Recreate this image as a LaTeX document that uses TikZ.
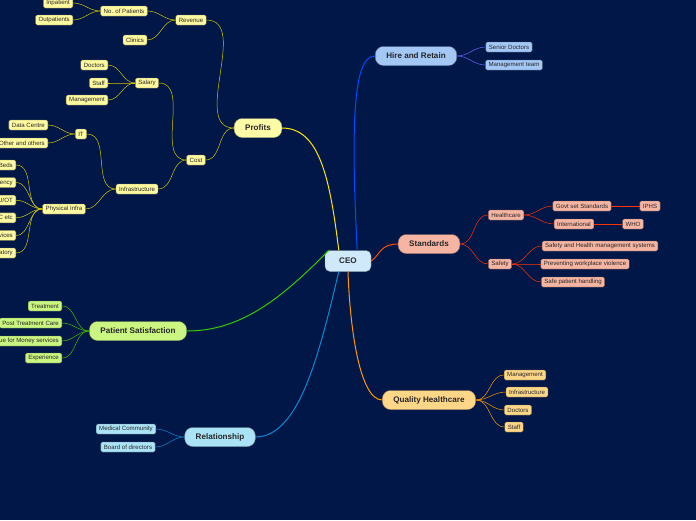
\documentclass[tikz,border=0pt]{standalone}
\usepackage{fontspec}
\setmainfont{Liberation Sans}
\begin{document}
\begin{tikzpicture}[x=1pt,y=-1pt,
 leaf/.style={draw=#1!50!black,fill=#1,rounded corners=1.5pt,font=\fontsize{6.1}{7}\selectfont,inner xsep=3pt,inner ysep=1.4pt,minimum height=10pt,text=black!85},
 main/.style={draw=#1!60!black,fill=#1,rounded corners=8pt,font=\fontsize{8.1}{9}\selectfont\bfseries,minimum height=19pt,inner xsep=11pt,text=black!85},
 sub/.style={draw=#1,line width=0.5pt},
 br/.style={draw=#1,line width=1pt}]
\definecolor{bg}{HTML}{011748}
\definecolor{cy}{HTML}{FFFCA8}\definecolor{cyl}{HTML}{FFF9A0}
\definecolor{cb}{HTML}{A3C8F6}\definecolor{cs}{HTML}{F6B5A2}
\definecolor{co}{HTML}{FDD688}\definecolor{cc}{HTML}{ABE3F6}
\definecolor{cg}{HTML}{C9F580}\definecolor{cceo}{HTML}{CFE9FB}
\fill[bg] (0,0) rectangle (696,520);
\clip (0,0) rectangle (696,520);
\useasboundingbox (0,0) rectangle (696,520);
% CEO
\node[main=cceo,minimum width=46pt,rounded corners=5pt,minimum height=21pt] (ceo) at (348,261) {CEO};
% main
\node[main=cb] (hire) at (416,56) {Hire and Retain};
\node[main=cs] (std) at (429,244) {Standards};
\node[main=co] (qh) at (429,400) {Quality Healthcare};
\node[main=cc] (rel) at (220,437) {Relationship};
\node[main=cg] (ps) at (138,331) {Patient Satisfaction};
\node[main=cy] (pro) at (258,128) {Profits};
\draw[br=yellow!90!orange] (ceo.north west)++(14,0) coordinate (c1) (c1) .. controls (330,180) and (320,128) .. (pro.east);
\draw[br=blue!70!cyan] (ceo.north east)++(-14,0) coordinate (c2) (c2) .. controls (350,110) and (355,56) .. (hire.west);
\draw[br=orange!60!red] (ceo.east) .. controls (380,255) and (380,244) .. (std.west);
\draw[br=orange!80!yellow] (ceo.south) .. controls (350,330) and (360,400) .. (qh.west);
\draw[br=cyan!70!blue] (ceo.south west)++(14,0) coordinate (c3) (c3) .. controls (320,350) and (300,437) .. (rel.east);
\draw[br=green!60!olive] (ceo.north west)++(4,0) coordinate (c4) (c4) .. controls (280,300) and (240,331) .. (ps.east);
% Hire
\node[leaf=cb] (sd) at (509,47) {Senior Doctors};
\node[leaf=cb] (mt) at (514,65) {Management team};
\foreach \n in {sd,mt}\draw[sub=blue!60] (hire.east) to[out=0,in=180] (\n.west);
% Standards
\node[leaf=cs] (hc) at (506,215) {Healthcare};
\node[leaf=cs] (gs) at (582,206) {Govt set Standards};
\node[leaf=cs] (ip) at (650,206) {IPHS};
\node[leaf=cs] (int) at (574,224) {International};
\node[leaf=cs] (who) at (633,224) {WHO};
\node[leaf=cs] (sf) at (500,264) {Safety};
\node[leaf=cs] (s1) at (600,246) {Safety and Health management systems};
\node[leaf=cs] (s2) at (585,264) {Preventing workplace violence};
\node[leaf=cs] (s3) at (573,282) {Safe patient handling};
\foreach \n in {hc,sf}\draw[sub=red!60!orange] (std.east) to[out=0,in=180] (\n.west);
\foreach \n in {gs,int}\draw[sub=red!60!orange] (hc.east) to[out=0,in=180] (\n.west);
\draw[sub=red!60!orange] (gs) -- (ip);
\draw[sub=red!60!orange] (int) -- (who);
\foreach \n in {s1,s2,s3}\draw[sub=red!60!orange] (sf.east) to[out=0,in=180] (\n.west);
% Quality
\node[leaf=co] (q1) at (525,375) {Management};
\node[leaf=co] (q2) at (527,392) {Infrastructure};
\node[leaf=co] (q3) at (518,410) {Doctors};
\node[leaf=co] (q4) at (514,427) {Staff};
\foreach \n in {q1,q2,q3,q4}\draw[sub=orange!80!yellow] (qh.east) to[out=0,in=180] (\n.west);
% Relationship
\node[leaf=cc] (r1) at (126,429) {Medical Community};
\node[leaf=cc] (r2) at (128,447) {Board of directors};
\foreach \n in {r1,r2}\draw[sub=cyan!70!blue] (rel.west) to[out=180,in=0] (\n.east);
% Patient Satisfaction
\node[leaf=cg,anchor=east] (p1) at (62,306) {Treatment};
\node[leaf=cg,anchor=east] (p2) at (62,323) {Post Treatment Care};
\node[leaf=cg,anchor=east] (p3) at (62,341) {Value for Money services};
\node[leaf=cg,anchor=east] (p4) at (62,358) {Experience};
\foreach \n in {p1,p2,p3,p4}\draw[sub=green!50!olive] (ps.west) to[out=180,in=0] (\n.east);
% Profits
\tikzset{ys/.style={sub=yellow!60!olive}}
\node[leaf=cyl] (rev) at (191,20) {Revenue};
\node[leaf=cyl] (nop) at (124,11) {No. of Patients};
\node[leaf=cyl,anchor=east] (inp) at (73,3) {Inpatient};
\node[leaf=cyl,anchor=east] (outp) at (73,20) {Outpatients};
\node[leaf=cyl] (cli) at (135,40) {Clinics};
\node[leaf=cyl] (cost) at (196,160) {Cost};
\node[leaf=cyl] (sal) at (147,83) {Salary};
\node[leaf=cyl,anchor=east] (sd1) at (108,65) {Doctors};
\node[leaf=cyl,anchor=east] (sd2) at (108,83) {Staff};
\node[leaf=cyl,anchor=east] (sd3) at (108,100) {Management};
\node[leaf=cyl] (inf) at (137,189) {Infrastructure};
\node[leaf=cyl] (it) at (81,134) {IT};
\node[leaf=cyl,anchor=east] (dc) at (48,125) {Data Centre};
\node[leaf=cyl,anchor=east] (oth) at (48,143) {Other and others};
\node[leaf=cyl] (phy) at (64,209) {Physical Infra};
\foreach \t [count=\i] in {Beds,Emergency,ICU/OT,HVAC etc,Services,Laboratory}
  \node[leaf=cyl,anchor=east] (ph\i) at (16,165+17.6*\i-17.6) {\t};
\foreach \n in {rev,cost}\draw[ys] (pro.west) to[out=180,in=0] (\n.east);
\foreach \n in {nop,cli}\draw[ys] (rev.west) to[out=180,in=0] (\n.east);
\foreach \n in {inp,outp}\draw[ys] (nop.west) to[out=180,in=0] (\n.east);
\foreach \n in {sal,inf}\draw[ys] (cost.west) to[out=180,in=0] (\n.east);
\foreach \n in {sd1,sd2,sd3}\draw[ys] (sal.west) to[out=180,in=0] (\n.east);
\foreach \n in {it,phy}\draw[ys] (inf.west) to[out=180,in=0] (\n.east);
\foreach \n in {dc,oth}\draw[ys] (it.west) to[out=180,in=0] (\n.east);
\foreach \i in {1,...,6}\draw[ys] (phy.west) to[out=180,in=0] (ph\i.east);
\end{tikzpicture}
\end{document}
